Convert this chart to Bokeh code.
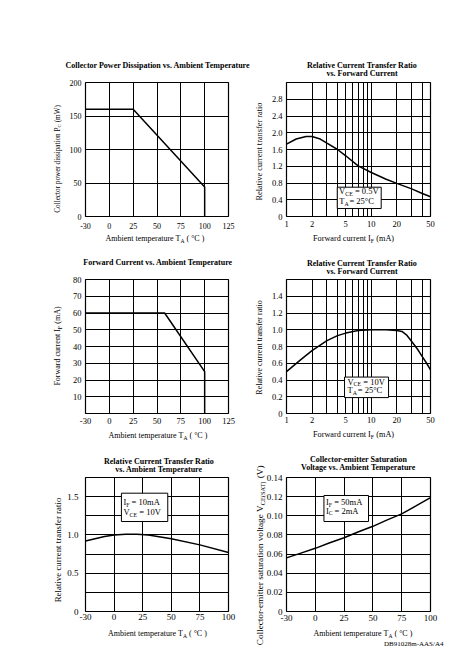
from math import pi

from bokeh.embed import file_html
from bokeh.layouts import column, row
from bokeh.models import BoxAnnotation, FixedTicker, Label
from bokeh.plotting import figure
from bokeh.resources import INLINE

FONT = "Liberation Serif"

# Collector power dissipation vs. ambient temperature
pc_temp = [-30, 25, 100, 100]
pc_mw = [160, 160, 44, 0]
pc_ticks = [0, 50, 100, 150, 200]

# Relative current transfer ratio vs. forward current (VCE = 0.5V)
ctr05_if = [1, 1.3, 1.7, 2, 2.5, 3, 4, 5, 7, 10, 15, 20, 30, 40, 50]
ctr05 = [1.73, 1.85, 1.91, 1.91, 1.85, 1.75, 1.60, 1.45, 1.21, 1.05, 0.89, 0.79, 0.66, 0.55, 0.47]
ctr05_ticks = [0, 0.4, 0.8, 1.2, 1.6, 2.0, 2.4, 2.8]
ctr05_labels = ["0", "0.4", "0.8", "1.2", "1.6", "2.0", "2.4", "2.8"]

# Forward current vs. ambient temperature
if_temp = [-30, 58, 100, 100]
if_ma = [60, 60, 25, 0]
if_ticks = [10, 20, 30, 40, 50, 60, 70, 80]

# Relative current transfer ratio vs. forward current (VCE = 10V)
ctr10_if = [1, 1.5, 2, 3, 4, 5, 7, 10, 15, 20, 23, 26, 30, 35, 40, 45, 50]
ctr10 = [0.50, 0.65, 0.75, 0.87, 0.93, 0.96, 0.99, 1.00, 1.00, 0.99, 0.98, 0.94, 0.86, 0.77, 0.68, 0.60, 0.52]
ctr10_ticks = [0, 0.2, 0.4, 0.6, 0.8, 1.0, 1.2, 1.4]
ctr10_labels = ["0", "0.2", "0.4", "0.6", "0.8", "1.0", "1.2", "1.4"]

# Relative current transfer ratio vs. ambient temperature
ctr_temp = [-30, -20, -10, 0, 10, 20, 30, 50, 75, 100]
ctr_t = [0.92, 0.95, 0.98, 1.00, 1.01, 1.01, 1.00, 0.95, 0.87, 0.77]
ctr_t_ticks = [0, 0.5, 1.0, 1.5]
ctr_t_labels = ["0", "0.5", "1.0", "1.5"]
ctr_t_grid = [0.25, 0.5, 0.75, 1.0, 1.25, 1.5]

# Collector-emitter saturation voltage vs. ambient temperature
vce_temp = [-30, -15, 0, 12, 25, 37, 50, 62, 75, 87, 100]
vce_sat = [0.056, 0.061, 0.066, 0.0715, 0.077, 0.083, 0.089, 0.0955, 0.102, 0.110, 0.119]
vce_ticks = [0, 0.02, 0.04, 0.06, 0.08, 0.10, 0.12, 0.14]
vce_labels = ["0", "0.02", "0.04", "0.06", "0.08", "0.10", "0.12", "0.14"]

temp_ticks = [-30, 0, 25, 50, 75, 100, 125]
temp_grid = [0, 25, 50, 75, 100]
current_ticks = [1, 2, 5, 10, 20, 50]
current_grid = [2, 3, 4, 5, 6, 7, 8, 9, 10, 20, 30, 40]


def t_pos(temps):
    # the sheet draws -30..0 as wide as one 25 degree step
    return [t * 25 / 30 if t < 0 else t for t in temps]


def chart(w, h, borders, x_range, y_range, x_type="linear", tick_size=8.5, standoff=(4, 4)):
    left, right, top, bottom = borders
    p = figure(width=w, height=h, x_range=x_range, y_range=y_range, x_axis_type=x_type,
               output_backend="svg", toolbar_location=None,
               min_border_left=left, min_border_right=right,
               min_border_top=top, min_border_bottom=bottom)
    p.outline_line_color = "black"
    p.outline_line_width = 1.2
    p.grid.grid_line_color = "black"
    p.grid.grid_line_width = 1
    for ax in p.axis:
        ax.axis_line_color = None
        ax.major_tick_line_color = None
        ax.minor_tick_line_color = None
        ax.major_tick_out = 0
        ax.minor_tick_out = 0
        ax.major_label_text_font = FONT
        ax.major_label_text_font_size = f"{tick_size}px"
        ax.major_label_text_color = "black"
    p.xaxis.major_label_standoff = standoff[0]
    p.yaxis.major_label_standoff = standoff[1]
    return p


def temp_axis(p, ticks, grid):
    pos = t_pos(ticks)
    p.xaxis.ticker = FixedTicker(ticks=pos)
    p.xaxis.major_label_overrides = {x: str(t) for x, t in zip(pos, ticks)}
    p.xgrid.ticker = FixedTicker(ticks=grid)


def current_axis(p):
    p.xaxis.ticker = FixedTicker(ticks=current_ticks)
    p.xaxis.major_label_overrides = {v: str(v) for v in current_ticks}
    p.xgrid.ticker = FixedTicker(ticks=current_grid)


def y_axis(p, ticks, labels=None, grid=None):
    p.yaxis.ticker = FixedTicker(ticks=ticks)
    p.yaxis.major_label_overrides = dict(zip(ticks, labels or [str(t) for t in ticks]))
    p.ygrid.ticker = FixedTicker(ticks=grid or ticks)


def text(p, x, y, s, size, dx=0, dy=0, align="center", angle=0, bold=False, place=None):
    label = Label(x=x, y=y, x_offset=dx, y_offset=dy, text=s, text_font=FONT,
                  text_font_size=f"{size:.1f}px", text_align=align,
                  text_baseline="middle", angle=angle, text_color="black",
                  text_font_style="bold" if bold else "normal")
    # a label in a side panel is not clipped to the frame, but it takes up room
    # there, so each one goes to a panel with space to spare
    if place:
        p.add_layout(label, place)
    else:
        p.add_layout(label)


def sub_text(p, x, y, head, sub, tail, size, sub_w, dx=0, dy=0, vertical=False, place=None):
    # head ends at the joint, then the lowered subscript, then the rest
    if vertical:
        text(p, x, y, head, size, dx, dy, "right", pi / 2, place=place)
        text(p, x, y, sub, size * 0.7, dx + size * 0.3, dy, "left", pi / 2, place=place)
        text(p, x, y, tail, size, dx, dy + sub_w, "left", pi / 2, place=place)
    else:
        text(p, x, y, head, size, dx, dy, "right", place=place)
        text(p, x, y, sub, size * 0.7, dx, dy - size * 0.3, "left", place=place)
        text(p, x, y, tail, size, dx + sub_w, dy, "left", place=place)


def title(p, x, y, lines, dys, dx=0):
    for s, dy in zip(lines, dys):
        text(p, x, y, s, 8, dx, dy, bold=True, place="above")


def note_box(p, left, right, bottom, top):
    p.add_layout(BoxAnnotation(left=left, right=right, bottom=bottom, top=top,
                               fill_color="white", fill_alpha=1, line_color="black",
                               line_alpha=1, line_width=1))


LOG_MID = 50 ** 0.5
LEFT_W, RIGHT_W = 254, 212
LEFT_B, RIGHT_B = (85, 26), (32, 36)

# --- Collector power dissipation
p1 = chart(LEFT_W, 256, LEFT_B + (82, 40), (-25, 125), (0, 200), tick_size=8, standoff=(6, 4))
temp_axis(p1, temp_ticks, temp_grid)
y_axis(p1, pc_ticks)
p1.line(t_pos(pc_temp), pc_mw, color="black", line_width=1.5)
title(p1, 50, 200, ["Collector Power Dissipation vs. Ambient Temperature"], [17], dx=1)
sub_text(p1, 50, 0, "Ambient temperature T", "A", "( °C )", 8, 6, dx=23.5, dy=-22, place="below")
sub_text(p1, -25, 100, "Collector power dissipation P", "C", "(mW)", 7.2, 5.2,
         dx=-28, dy=22, vertical=True, place="left")

# --- Relative CTR vs. forward current, VCE = 0.5V
p2 = chart(RIGHT_W, 256, RIGHT_B + (82, 40), (1, 50), (0, 3.2), "log", 8.5, (4, 4))
current_axis(p2)
y_axis(p2, ctr05_ticks, ctr05_labels)
p2.line(ctr05_if, ctr05, color="black", line_width=1.5)
title(p2, LOG_MID, 3.2, ["Relative Current Transfer Ratio", "vs. Forward Current"], [17.5, 9], dx=3.5)
sub_text(p2, LOG_MID, 0, "Forward current I", "F", "(mA)", 8.2, 5.5, dx=12.3, dy=-22, place="below")
text(p2, 1, 1.6, "Relative current transfer ratio", 8.3, dx=-27.5, dy=-2, angle=pi / 2, place="left")
note_box(p2, 3.97, 13.1, 0.19, 0.70)
sub_text(p2, 3.97, 0.60, "V", "CE", "= 0.5V", 8.5, 9.7, dx=8)
sub_text(p2, 3.97, 0.37, "T", "A", "= 25°C", 8.5, 5, dx=7.2)

# --- Forward current vs. ambient temperature
p3 = chart(LEFT_W, 197, LEFT_B + (23, 40), (-25, 125), (0, 80), tick_size=8.5, standoff=(4, 4))
temp_axis(p3, temp_ticks, temp_grid)
y_axis(p3, if_ticks)
p3.line(t_pos(if_temp), if_ma, color="black", line_width=1.5)
title(p3, 50, 80, ["Forward Current vs. Ambient Temperature"], [17], dx=1)
sub_text(p3, 50, 0, "Ambient temperature T", "A", "( °C )", 8, 6, dx=26.5, dy=-22, place="below")
sub_text(p3, -25, 40, "Forward current I", "F", "(mA)", 8, 5.5, dx=-28, dy=17.3,
         vertical=True, place="left")

# --- Relative CTR vs. forward current, VCE = 10V
p4 = chart(RIGHT_W, 197, RIGHT_B + (23, 40), (1, 50), (0, 1.6), "log", 8.5, (3, 4))
current_axis(p4)
y_axis(p4, ctr10_ticks, ctr10_labels)
p4.line(ctr10_if, ctr10, color="black", line_width=1.5)
title(p4, LOG_MID, 1.6, ["Relative Current Transfer Ratio", "vs. Forward Current"], [16.5, 8], dx=3.5)
sub_text(p4, LOG_MID, 0, "Forward current I", "F", "(mA)", 8.2, 5.5, dx=12.3, dy=-21, place="below")
text(p4, 1, 0.8, "Relative current transfer ratio", 8, dx=-27.5, dy=-1, angle=pi / 2, place="left")
note_box(p4, 4.84, 16.0, 0.19, 0.435)
sub_text(p4, 4.84, 0.38, "V", "CE", "= 10V", 8.5, 9.7, dx=9)
sub_text(p4, 4.84, 0.275, "T", "A", "= 25°C", 8.5, 5, dx=8.2)

# --- Relative CTR vs. ambient temperature
p5 = chart(LEFT_W, 208, LEFT_B + (24, 50), (-25, 100), (0, 1.75), tick_size=9, standoff=(2, 7))
temp_axis(p5, temp_ticks[:-1], temp_grid[:-1])
y_axis(p5, ctr_t_ticks, ctr_t_labels, ctr_t_grid)
p5.line(t_pos(ctr_temp), ctr_t, color="black", line_width=1.5)
title(p5, 37.5, 1.75, ["Relative Current Transfer Ratio", "vs. Ambient Temperature"], [16, 8], dx=2)
sub_text(p5, 37.5, 0, "Ambient temperature T", "A", "( °C )", 8, 6, dx=26, dy=-22, place="below")
text(p5, -25, 0.875, "Relative current transfer ratio", 8.9, dx=-28, dy=-5.5, angle=pi / 2, place="left")
note_box(p5, 6.4, 46.9, 1.175, 1.545)
sub_text(p5, 6.4, 1.427, "I", "F", "= 10mA", 8.5, 5.4, dx=4.8)
sub_text(p5, 6.4, 1.296, "V", "CE", "= 10V", 8.5, 9.7, dx=8.1)

# --- Collector-emitter saturation voltage
p6 = chart(RIGHT_W, 208, RIGHT_B + (24, 50), (-25, 100), (0, 0.14), tick_size=9, standoff=(3, 4))
temp_axis(p6, temp_ticks[:-1], temp_grid[:-1])
y_axis(p6, vce_ticks, vce_labels)
p6.line(t_pos(vce_temp), vce_sat, color="black", line_width=1.5)
title(p6, 37.5, 0.14, ["Collector-emitter Saturation", "Voltage vs. Ambient Temperature"], [18.5, 10])
sub_text(p6, 37.5, 0, "Ambient temperature T", "A", "( °C )", 8, 6, dx=30, dy=-22, place="below")
sub_text(p6, -25, 0.07, "Collector-emitter saturation voltage V", "CE(SAT)", "(V)", 9.2, 27,
         dx=-26.5, dy=39.2, vertical=True, place="right")
note_box(p6, 7.5, 46.2, 0.094, 0.1212)
sub_text(p6, 7.5, 0.1142, "I", "F", "= 50mA", 8.5, 5.4, dx=4.8)
sub_text(p6, 7.5, 0.1055, "I", "C", "= 2mA", 8.5, 5.8, dx=4.8)
text(p6, 100, 0, "DB91028m-AAS/A4", 7, dx=13, dy=-32, align="right", place="below")

layout = column(row(p1, p2), row(p3, p4), row(p5, p6))
open("out.html", "w").write(file_html(layout, INLINE))
